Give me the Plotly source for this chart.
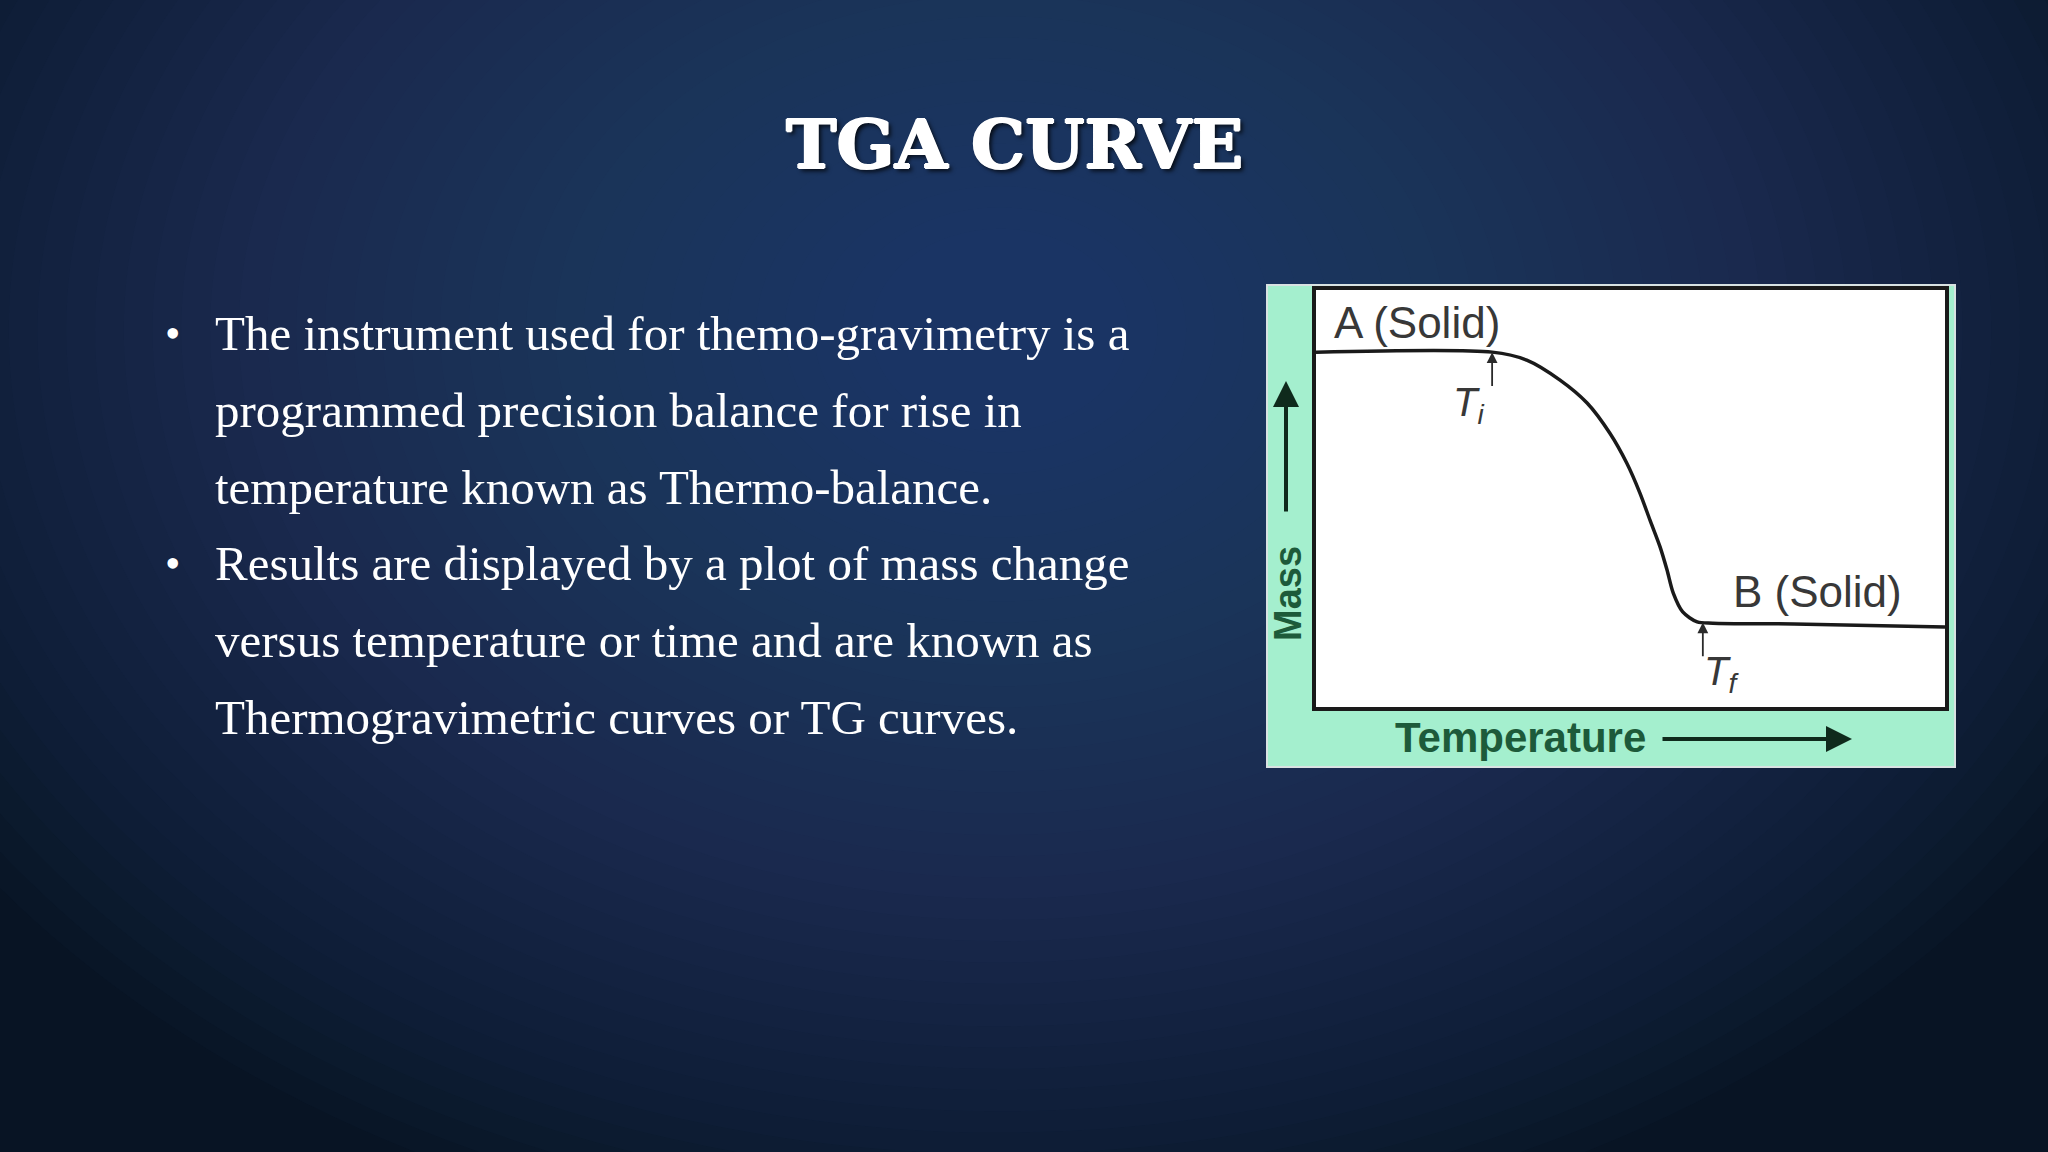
import plotly.graph_objects as go
import numpy as np

W, H = 2048, 1152

# ---- data -------------------------------------------------------------
temperature = [0, 28.0, 33.5, 38.8, 43.1, 46.7, 49.4, 51.5, 53.1, 54.7, 55.8, 56.8, 58.3, 60.6, 63.1, 76.0, 100]
mass = [85.1, 85.1, 83.2, 78.4, 72.9, 65.7, 58.5, 51.3, 44.8, 38.4, 32.9, 27.3, 22.8, 20.4, 20.1, 19.9, 19.2]

t_initial = 28.0
t_final = 61.5

title_text = "TGA CURVE"
bullet_lines = [
    ("•", "The instrument used for themo-gravimetry is a"),
    ("", "programmed precision balance for rise in"),
    ("", "temperature known as Thermo-balance."),
    ("•", "Results are displayed by a plot of mass change"),
    ("", "versus temperature or time and are known as"),
    ("", "Thermogravimetric curves or TG curves."),
]


def px(x):
    return x / W


def py(y):
    return 1 - y / H


fig = go.Figure()

fig.add_trace(go.Scatter(
    x=temperature, y=mass, mode="lines",
    line=dict(color="#1a1a1a", width=3.5, shape="spline", smoothing=0.8),
    hoverinfo="skip", showlegend=False,
))

shapes = []
# background radial glow (vignette)
n = 40
for i in range(n):
    f = 1 - i / n
    rx = 1150 * f + 100
    ry = 850 * f + 80
    cx, cy = 1000, 330
    shapes.append(dict(
        type="circle", xref="paper", yref="paper", layer="below",
        x0=px(cx - rx), x1=px(cx + rx), y0=py(cy + ry), y1=py(cy - ry),
        fillcolor="rgba(40,80,131,0.041)", line=dict(width=0),
    ))
# mint frame of the picture
shapes.append(dict(
    type="rect", xref="paper", yref="paper", layer="below",
    x0=px(1267), x1=px(1955), y0=py(767), y1=py(285),
    fillcolor="#a4efce", line=dict(color="#d8e2e2", width=2),
))
# white drawing area
shapes.append(dict(
    type="rect", xref="paper", yref="paper", layer="below",
    x0=px(1316), x1=px(1945), y0=py(707), y1=py(290),
    fillcolor="#ffffff", line=dict(width=0),
))

annotations = []
# title
annotations.append(dict(
    text=title_text, xref="paper", yref="paper", x=px(1014), y=py(144),
    xanchor="center", yanchor="middle", showarrow=False,
    font=dict(family="DejaVu Serif", size=68, color="white", weight="bold",
              shadow="1px 0 0 #fff, -1px 0 0 #fff, 0 1px 0 #fff, 0 -1px 0 #fff, 3px 3px 4px rgba(0,0,0,0.8)"),
))
# bullets
line_centers = [333, 410, 487, 563, 640, 717]
for (b, t), yc in zip(bullet_lines, line_centers):
    if b:
        annotations.append(dict(
            text=b, xref="paper", yref="paper", x=px(172), y=py(yc),
            xanchor="center", yanchor="middle", showarrow=False,
            font=dict(family="Liberation Serif", size=44, color="white"),
        ))
    annotations.append(dict(
        text=t, xref="paper", yref="paper", x=px(213), y=py(yc),
        xanchor="left", yanchor="middle", showarrow=False,
        font=dict(family="Liberation Serif", size=49, color="white"),
    ))

# chart labels
lab_font = dict(family="Liberation Sans", size=44, color="#383838")
annotations.append(dict(text="A (Solid)", x=16.1, y=92.2, xref="x", yref="y",
                        xanchor="center", yanchor="middle", showarrow=False, font=lab_font))
annotations.append(dict(text="B (Solid)", x=79.7, y=27.6, xref="x", yref="y",
                        xanchor="center", yanchor="middle", showarrow=False, font=lab_font))
t_font = dict(family="Liberation Sans", size=40, color="#383838")
annotations.append(dict(text="<i>T</i><sub><i>i</i></sub>", x=24.3, y=72.5, xref="x", yref="y",
                        xanchor="center", yanchor="middle", showarrow=False, font=t_font))
annotations.append(dict(text="<i>T</i><sub><i>f</i></sub>", x=64.5, y=8.0, xref="x", yref="y",
                        xanchor="center", yanchor="middle", showarrow=False, font=t_font))
# Ti / Tf arrows
for tx in (t_initial, t_final):
    ty = float(np.interp(tx, temperature, mass))
    annotations.append(dict(
        x=tx, y=ty, ax=tx, ay=ty - 8.5, xref="x", yref="y", axref="x", ayref="y",
        showarrow=True, arrowhead=2, arrowsize=1.2, arrowwidth=1.8, arrowcolor="#2a2a2a", text="",
    ))

# axis names
green = "#1d5a3a"
annotations.append(dict(
    text="<b>Mass</b>", xref="paper", yref="paper", x=px(1288), y=py(594),
    xanchor="center", yanchor="middle", textangle=-90, showarrow=False,
    font=dict(family="Liberation Sans", size=38, color=green),
))
annotations.append(dict(
    text="<b>Temperature</b>", xref="paper", yref="paper", x=px(1520), y=py(737),
    xanchor="center", yanchor="middle",
    showarrow=False, font=dict(family="Liberation Sans", size=42, color=green),
))
annotations.append(dict(
    text="", xref="paper", yref="paper", x=px(1286), y=py(381), ax=0, ay=132,
    showarrow=True, arrowhead=2, arrowsize=1.3, arrowwidth=4, arrowcolor="#0f2a1c",
))
annotations.append(dict(
    text="", xref="paper", yref="paper", x=px(1852), y=py(739), ax=-191, ay=0,
    showarrow=True, arrowhead=2, arrowsize=1.3, arrowwidth=4, arrowcolor="#0f2a1c",
))

fig.update_layout(
    width=W, height=H,
    margin=dict(l=0, r=0, t=0, b=0),
    paper_bgcolor="#081424",
    plot_bgcolor="white",
    shapes=shapes,
    annotations=annotations,
    xaxis=dict(domain=[px(1316), px(1945)], range=[0, 100], showgrid=False, zeroline=False,
               showticklabels=False, ticks="", showline=True, mirror=True,
               linecolor="#1a1a1a", linewidth=4, fixedrange=True),
    yaxis=dict(domain=[py(707), py(290)], range=[0, 100], showgrid=False, zeroline=False,
               showticklabels=False, ticks="", showline=True, mirror=True,
               linecolor="#1a1a1a", linewidth=4, fixedrange=True),
    showlegend=False,
)

fig.write_html(
    "out.html",
    config={"displayModeBar": False},
    post_script="document.body.style.margin='0px';document.body.style.overflow='hidden';",
)
